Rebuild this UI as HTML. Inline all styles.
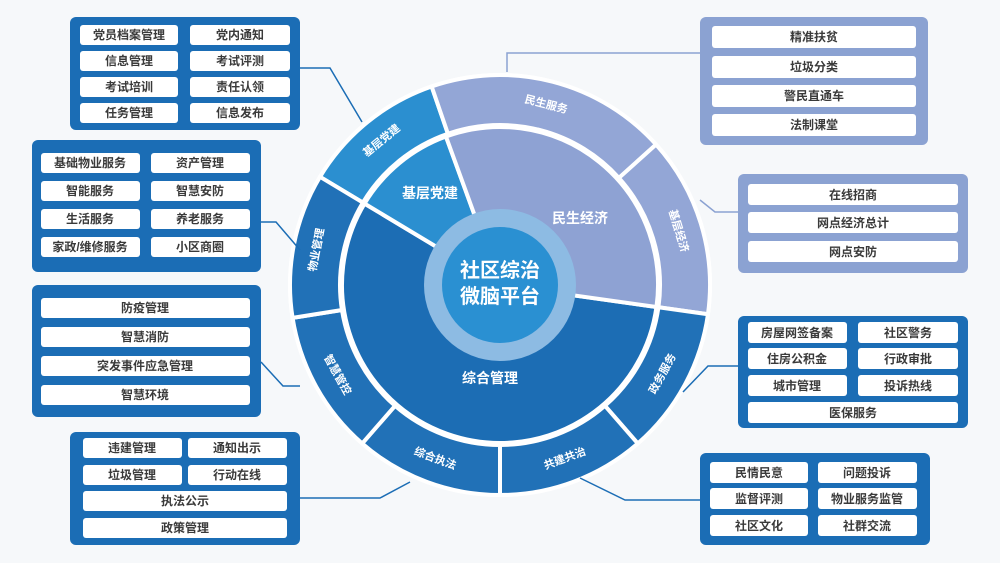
<!DOCTYPE html>
<html><head><meta charset="utf-8"><style>
html,body{margin:0;padding:0;background:#f6f8fa;}
svg{display:block}
text{font-family:"Liberation Sans","Noto Sans CJK SC",sans-serif;font-weight:bold;}
.c{fill:#3a3a3a;font-size:12px;text-anchor:middle;dominant-baseline:central}
.w{fill:#fff;text-anchor:middle;dominant-baseline:central}
</style></head><body>
<svg id="s" width="1000" height="563" viewBox="0 0 1000 563" xmlns="http://www.w3.org/2000/svg">
<rect width="1000" height="563" fill="#f6f8fa"/>
<g id="pie"></g>
<g fill="none" stroke-width="1.5">
<polyline points="300,68 330,68 362,122" stroke="#1b6db5"/>
<polyline points="261,222 276,222 300,250" stroke="#1b6db5"/>
<polyline points="261,362 283,386 300,386" stroke="#1b6db5"/>
<polyline points="300,498 380,498 410,482" stroke="#1b6db5"/>
<polyline points="507,72 507,53 700,53" stroke="#8ba2d2"/>
<polyline points="738,212 715,212 700,200" stroke="#8ba2d2"/>
<polyline points="738,366 708,366 683,392" stroke="#1b6db5"/>
<polyline points="700,500 625,500 580,478" stroke="#1b6db5"/>
</g>
<g>
<rect x="70" y="17" width="230" height="113" rx="6" fill="#1b6db5"/>
<rect x="32" y="140" width="229" height="132" rx="6" fill="#1b6db5"/>
<rect x="32" y="285" width="229" height="132" rx="6" fill="#1b6db5"/>
<rect x="70" y="432" width="230" height="113" rx="6" fill="#1b6db5"/>
<rect x="700" y="17" width="228" height="128" rx="6" fill="#8ba2d2"/>
<rect x="738" y="174" width="230" height="99" rx="6" fill="#8ba2d2"/>
<rect x="738" y="316" width="230" height="112" rx="6" fill="#1b6db5"/>
<rect x="700" y="453" width="230" height="92" rx="6" fill="#1b6db5"/>
</g>
<g fill="#fff" id="cells"></g>
<g class="w" font-size="11">
<text class="w" transform="translate(382,141) rotate(-39.5)">基层党建</text>
<text class="w" transform="translate(546,105) rotate(14.5)">民生服务</text>
<text class="w" transform="translate(678,231) rotate(73)">基层经济</text>
<text class="w" transform="translate(663,374) rotate(-61.5)">政务服务</text>
<text class="w" transform="translate(565,459) rotate(-20.5)">共建共治</text>
<text class="w" transform="translate(435,459) rotate(20.5)">综合执法</text>
<text class="w" transform="translate(337,375) rotate(61)">智慧管控</text>
<text class="w" transform="translate(317,250) rotate(-79)">物业管理</text>
<text class="w" x="430" y="193" font-size="14">基层党建</text>
<text class="w" x="580" y="218" font-size="14">民生经济</text>
<text class="w" x="490" y="378" font-size="14">综合管理</text>
<text class="w" x="500" y="271" font-size="20">社区综治</text>
<text class="w" x="500" y="297" font-size="20">微脑平台</text>
</g>
<g id="t">
<text class="c" x="129" y="35">党员档案管理</text><text class="c" x="240" y="35">党内通知</text>
<text class="c" x="129" y="61">信息管理</text><text class="c" x="240" y="61">考试评测</text>
<text class="c" x="129" y="87">考试培训</text><text class="c" x="240" y="87">责任认领</text>
<text class="c" x="129" y="113">任务管理</text><text class="c" x="240" y="113">信息发布</text>
<text class="c" x="90" y="163">基础物业服务</text><text class="c" x="200" y="163">资产管理</text>
<text class="c" x="90" y="191">智能服务</text><text class="c" x="200" y="191">智慧安防</text>
<text class="c" x="90" y="219">生活服务</text><text class="c" x="200" y="219">养老服务</text>
<text class="c" x="90" y="247">家政/维修服务</text><text class="c" x="200" y="247">小区商圈</text>
<text class="c" x="145" y="308">防疫管理</text>
<text class="c" x="145" y="337">智慧消防</text>
<text class="c" x="145" y="366">突发事件应急管理</text>
<text class="c" x="145" y="395">智慧环境</text>
<text class="c" x="132" y="448">违建管理</text><text class="c" x="237" y="448">通知出示</text>
<text class="c" x="132" y="475">垃圾管理</text><text class="c" x="237" y="475">行动在线</text>
<text class="c" x="185" y="501">执法公示</text>
<text class="c" x="185" y="528">政策管理</text>
<text class="c" x="814" y="37">精准扶贫</text>
<text class="c" x="814" y="67">垃圾分类</text>
<text class="c" x="814" y="96">警民直通车</text>
<text class="c" x="814" y="125">法制课堂</text>
<text class="c" x="853" y="195">在线招商</text>
<text class="c" x="853" y="223">网点经济总计</text>
<text class="c" x="853" y="252">网点安防</text>
<text class="c" x="797" y="333">房屋网签备案</text><text class="c" x="908" y="333">社区警务</text>
<text class="c" x="797" y="359">住房公积金</text><text class="c" x="908" y="359">行政审批</text>
<text class="c" x="797" y="386">城市管理</text><text class="c" x="908" y="386">投诉热线</text>
<text class="c" x="853" y="413">医保服务</text>
<text class="c" x="759" y="473">民情民意</text><text class="c" x="867" y="473">问题投诉</text>
<text class="c" x="759" y="499">监督评测</text><text class="c" x="867" y="499">物业服务监管</text>
<text class="c" x="759" y="526">社区文化</text><text class="c" x="867" y="526">社群交流</text>
</g>
</svg>
<script>
(function(){
var NS="http://www.w3.org/2000/svg",cx=500,cy=285;
function P(r,a){a=a*Math.PI/180;return [cx+r*Math.cos(a),cy+r*Math.sin(a)];}
function wedge(r0,r1,a0,a1,fill,g){
 var p1=P(r1,a0),p2=P(r1,a1),large=(a1-a0)>180?1:0,d;
 if(r0<=0){d="M"+cx+","+cy+"L"+p1+"A"+r1+","+r1+" 0 "+large+" 1 "+p2+"Z";}
 else{var p3=P(r0,a1),p4=P(r0,a0);d="M"+p1+"A"+r1+","+r1+" 0 "+large+" 1 "+p2+"L"+p3+"A"+r0+","+r0+" 0 "+large+" 0 "+p4+"Z";}
 var e=document.createElementNS(NS,"path");e.setAttribute("d",d);e.setAttribute("fill",fill);
 e.setAttribute("stroke","#fff");e.setAttribute("stroke-width","4");e.setAttribute("stroke-linejoin","round");g.appendChild(e);}
var g=document.getElementById("pie");
var c=document.createElementNS(NS,"circle");c.setAttribute("cx",cx);c.setAttribute("cy",cy);c.setAttribute("r",212);c.setAttribute("fill","#fff");g.appendChild(c);
var D="#2171b7",L="#2b8fd0",V="#93a6d6",V2="#8ea2d3";
wedge(160,210,211,251,L,g);wedge(160,210,251,318,V,g);wedge(160,210,318,368,V,g);
wedge(160,210,8,49,D,g);wedge(160,210,49,90,D,g);wedge(160,210,90,131,D,g);
wedge(160,210,131,171,D,g);wedge(160,210,171,211,D,g);
wedge(0,158,8,211,"#1c6db4",g);wedge(0,158,211,250,L,g);wedge(0,158,250,368,V2,g);
var r=document.createElementNS(NS,"circle");r.setAttribute("cx",cx);r.setAttribute("cy",cy);r.setAttribute("r",76);r.setAttribute("fill","#8dbbe3");g.appendChild(r);
var i=document.createElementNS(NS,"circle");i.setAttribute("cx",cx);i.setAttribute("cy",cy);i.setAttribute("r",58);i.setAttribute("fill","#2a90d2");g.appendChild(i);
var cells=document.getElementById("cells");
function cell(x,y,w,h){var e=document.createElementNS(NS,"rect");e.setAttribute("x",x);e.setAttribute("y",y);e.setAttribute("width",w);e.setAttribute("height",h);e.setAttribute("rx",3);cells.appendChild(e);}
[25,51,77,103].forEach(function(y){cell(80,y,98,20);cell(190,y,100,20);});
[153,181,209,237].forEach(function(y){cell(41,y,99,20);cell(151,y,99,20);});
[298,327,356,385].forEach(function(y){cell(41,y,209,20);});
[438,465].forEach(function(y){cell(83,y,99,20);cell(188,y,99,20);});
[491,518].forEach(function(y){cell(83,y,204,20);});
[26,56,85,114].forEach(function(y){cell(712,y,204,22);});
[184,212,241].forEach(function(y){cell(748,y,210,21);});
[322,348,375].forEach(function(y){cell(748,y,99,21);cell(858,y,100,21);});
cell(748,402,210,21);
[462,488,515].forEach(function(y){cell(710,y,98,21);cell(818,y,99,21);});
})();
</script>
</body></html>
